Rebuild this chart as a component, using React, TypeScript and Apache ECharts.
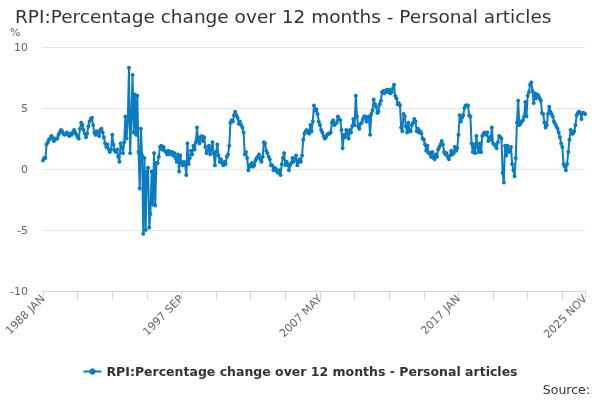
import React, { useEffect, useRef } from 'react';
import * as echarts from 'echarts';

const MONTHS = ['JAN', 'FEB', 'MAR', 'APR', 'MAY', 'JUN', 'JUL', 'AUG', 'SEP', 'OCT', 'NOV', 'DEC'];
const FIRST_YEAR = 1988;

// monthly values, one row per year (1988 JAN .. 2025 NOV)
const y1988 = [0.7, 0.9, 0.9, 2.0, 2.2, 2.4, 2.5, 2.7, 2.6, 2.3, 2.4, 2.5];
const y1989 = [2.5, 2.8, 3.0, 3.2, 3.1, 2.9, 2.8, 2.9, 3.0, 2.8, 2.7, 2.9];
const y1990 = [2.8, 3.0, 3.2, 3.0, 2.8, 2.6, 2.5, 3.3, 3.8, 3.6, 3.2, 2.9];
const y1991 = [2.6, 2.9, 3.5, 3.9, 4.1, 4.2, 3.6, 3.0, 2.8, 3.1, 3.0, 2.7];
const y1992 = [3.2, 3.3, 3.0, 2.6, 2.1, 1.8, 2.0, 1.6, 1.4, 1.6, 2.8, 2.0];
const y1993 = [1.5, 1.4, 1.6, 1.0, 0.6, 2.1, 1.8, 1.3, 2.2, 4.3, 2.5, 3.9];
const y1994 = [8.3, 1.3, 4.2, 7.7, 3.0, 6.1, 2.8, 6.0, 1.4, -1.6, 3.3, 1.1];
const y1995 = [-5.3, 0.9, -5.0, -0.2, 0.1, -4.8, -3.7, -0.2, -2.9, 1.3, -3.0, 0.5];
const y1996 = [0.5, 1.0, 1.8, 1.9, 1.6, 1.8, 1.5, 1.4, 1.2, 1.5, 1.2, 1.4];
const y1997 = [1.4, 1.1, 1.3, 0.9, 0.6, 1.2, -0.2, 1.1, 0.5, 0.3, 0.6, 0.4];
const y1998 = [-0.5, 2.1, 0.4, 0.9, 1.5, 1.2, 1.9, 1.6, 2.2, 3.4, 2.4, 2.1];
const y1999 = [2.6, 2.7, 2.3, 2.6, 1.8, 1.3, 1.5, 1.9, 1.2, 1.6, 2.2, 1.3];
const y2000 = [0.3, 1.4, 2.0, 1.1, 0.6, 0.8, 0.5, 0.3, 0.6, 0.4, 1.0, 1.2];
const y2001 = [1.9, 3.8, 4.0, 3.9, 4.4, 4.7, 4.4, 4.2, 3.7, 3.9, 3.6, 3.4];
const y2002 = [3.0, 1.2, 1.4, 0.9, -0.1, 0.3, 0.2, 0.5, 0.2, 0.3, 0.7, 0.9];
const y2003 = [1.0, 1.2, 0.8, 0.6, 1.0, 2.2, 2.1, 1.5, 1.3, 1.0, 0.8, 0.3];
const y2004 = [0.3, -0.1, 0.1, 0.0, -0.2, -0.3, -0.1, -0.5, 0.4, 0.9, 1.3, 0.3];
const y2005 = [0.6, 0.4, -0.1, 0.3, 0.5, 0.9, 0.6, 0.8, 1.1, 0.3, 0.6, 0.8];
const y2006 = [0.6, 1.1, 2.4, 2.9, 3.1, 3.2, 3.0, 2.9, 3.6, 3.1, 3.9, 5.2];
const y2007 = [4.8, 4.9, 4.5, 3.9, 3.6, 3.2, 3.0, 2.7, 2.5, 2.6, 2.8, 2.9];
const y2008 = [2.9, 3.0, 3.8, 4.0, 3.6, 3.7, 3.8, 4.3, 4.1, 4.0, 3.2, 1.7];
const y2009 = [2.8, 2.6, 3.2, 2.9, 2.5, 3.2, 3.0, 3.5, 4.1, 3.6, 6.0, 4.3];
const y2010 = [3.5, 3.3, 3.7, 3.8, 4.1, 4.3, 4.3, 3.9, 4.2, 4.3, 2.8, 4.5];
const y2011 = [4.8, 5.7, 5.3, 5.1, 4.6, 4.7, 5.3, 5.6, 6.3, 6.4, 6.2, 6.4];
const y2012 = [6.5, 6.3, 6.5, 6.2, 6.3, 6.6, 6.9, 6.0, 5.8, 5.3, 5.4, 5.2];
const y2013 = [3.4, 3.1, 4.5, 4.3, 3.5, 3.0, 3.8, 3.1, 3.1, 3.6, 3.8, 4.1];
const y2014 = [3.9, 3.1, 3.3, 3.0, 3.1, 2.9, 2.5, 2.4, 2.0, 1.5, 1.9, 1.3];
const y2015 = [1.3, 1.0, 1.4, 0.9, 0.8, 1.2, 1.0, 1.6, 1.8, 2.0, 2.3, 2.0];
const y2016 = [1.4, 1.2, 1.3, 1.0, 0.8, 1.1, 1.5, 1.2, 1.3, 1.8, 1.5, 1.7];
const y2017 = [2.8, 4.4, 3.9, 4.2, 4.4, 5.0, 5.2, 5.2, 5.2, 4.4, 4.3, 2.1];
const y2018 = [1.4, 2.0, 1.3, 2.7, 1.8, 1.4, 2.1, 1.4, 2.7, 2.9, 3.0, 2.8];
const y2019 = [3.0, 2.3, 2.6, 2.4, 3.4, 2.1, 2.0, 1.9, 1.7, 2.2, 2.7, 2.6];
const y2020 = [2.5, -0.3, -1.1, 1.9, 1.1, 1.9, 1.4, 1.5, 1.8, 0.4, -0.1, -0.6];
const y2021 = [0.9, 3.8, 5.6, 3.6, 3.7, 3.9, 4.0, 4.3, 5.5, 4.3, 6.0, 6.3];
const y2022 = [6.9, 7.1, 6.4, 5.4, 6.2, 5.8, 6.1, 6.0, 5.8, 5.6, 4.6, 4.5];
const y2023 = [3.8, 3.4, 3.6, 4.5, 5.1, 4.7, 4.5, 4.3, 3.9, 3.7, 3.5, 3.3];
const y2024 = [3.0, 2.6, 2.1, 1.8, 0.4, 0.2, -0.1, 0.4, 1.4, 2.4, 3.2, 2.9];
const y2025 = [2.9, 3.1, 3.6, 4.4, 4.6, 4.7, 4.6, 4.1, 4.6, 4.6, 4.5];

const YEARS = [
  y1988, y1989, y1990, y1991, y1992, y1993, y1994, y1995, y1996, y1997,
  y1998, y1999, y2000, y2001, y2002, y2003, y2004, y2005, y2006, y2007,
  y2008, y2009, y2010, y2011, y2012, y2013, y2014, y2015, y2016, y2017,
  y2018, y2019, y2020, y2021, y2022, y2023, y2024, y2025,
];

const SERIES_NAME = 'RPI:Percentage change over 12 months - Personal articles';

const categories: string[] = [];
const values: number[] = [];
YEARS.forEach((row, yi) => {
  row.forEach((v, mi) => {
    categories.push(`${FIRST_YEAR + yi} ${MONTHS[mi]}`);
    values.push(v);
  });
});

const LABEL_STEP = 116;
const TICK_STEP = 29;

const FONT = "'DejaVu Sans', sans-serif";

const App: React.FC = () => {
  const chartRef = useRef<HTMLDivElement>(null);

  useEffect(() => {
    if (!chartRef.current) return;
    const chart = echarts.init(chartRef.current, undefined, { renderer: 'svg' });
    const last = categories.length - 1;

    const option: any = {
      animation: false,
      textStyle: { fontFamily: FONT },
      title: {
        text: SERIES_NAME,
        left: 10,
        top: 2,
        textStyle: { fontSize: 18.5, fontWeight: 'normal', color: '#333', fontFamily: FONT },
      },
      graphic: [
        {
          type: 'text',
          left: 10,
          top: 27,
          style: { text: '%', fontSize: 11, fill: '#666', fontFamily: FONT },
        },
        {
          type: 'text',
          right: 10,
          top: 383,
          style: { text: 'Source:', fontSize: 12.5, fill: '#333', fontFamily: FONT },
        },
      ],
      legend: {
        bottom: 17,
        left: 'center',
        itemWidth: 18,
        itemHeight: 8,
        itemGap: 6,
        textStyle: { fontSize: 12.5, fontWeight: 'bold', color: '#333', fontFamily: FONT },
        data: [SERIES_NAME],
      },
      grid: { left: 43, right: 15, top: 47, bottom: 109 },
      xAxis: {
        type: 'category',
        boundaryGap: false,
        data: categories,
        axisLine: { onZero: false, lineStyle: { color: '#ccd6eb' } },
        axisTick: {
          show: true,
          length: 9,
          interval: (i: number) => i % TICK_STEP === 0 || i === last,
          lineStyle: { color: '#ccd6eb' },
        },
        axisLabel: {
          interval: (i: number) => i % LABEL_STEP === 0 || i === last,
          rotate: 45,
          color: '#666',
          fontSize: 11,
          margin: 6,
          fontFamily: FONT,
        },
        splitLine: { show: false },
      },
      yAxis: {
        type: 'value',
        min: -10,
        max: 10,
        interval: 5,
        axisLine: { show: false },
        axisTick: { show: false },
        axisLabel: { color: '#666', fontSize: 11, margin: 15, fontFamily: FONT },
        splitLine: { lineStyle: { color: '#e6e6e6' } },
      },
      series: [
        {
          name: SERIES_NAME,
          type: 'line',
          data: values,
          symbol: 'circle',
          symbolSize: 4,
          showAllSymbol: true,
          lineStyle: { color: '#0b7cc0', width: 2 },
          itemStyle: { color: '#0b7cc0' },
        },
      ],
    };

    chart.setOption(option);
    return () => {
      chart.dispose();
    };
  }, []);

  return (
    <div
      ref={chartRef}
      style={{ position: 'fixed', left: 0, top: 0, width: 600, height: 400, fontFamily: FONT }}
    />
  );
};

export default App;
